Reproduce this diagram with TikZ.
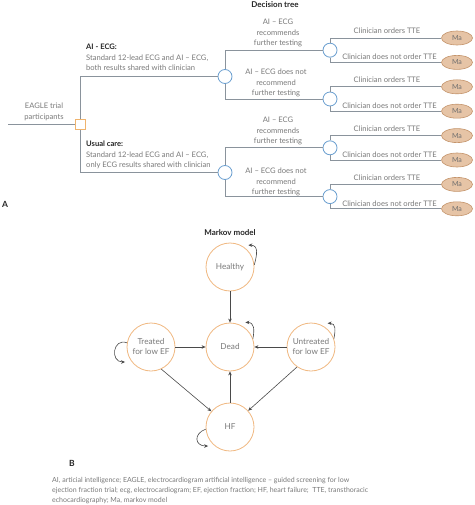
\documentclass[tikz,border=0pt]{standalone}
\usepackage{fontspec}
\setmainfont{Lato}
\usetikzlibrary{shapes.geometric,arrows.meta,calc}
\definecolor{treeline}{HTML}{8A939C}
\definecolor{bluec}{HTML}{6B9FD0}
\definecolor{sqor}{HTML}{F0B46E}
\definecolor{mafill}{HTML}{E6C4A6}
\definecolor{madraw}{HTML}{C4946B}
\definecolor{txtg}{HTML}{7A7A7A}
\definecolor{mkor}{HTML}{F0B880}
\definecolor{arrg}{HTML}{4A4A4A}
\begin{document}
\begin{tikzpicture}[x=1pt,y=-1pt,
 tl/.style={draw=treeline,line width=0.8pt},
 chance/.style={circle,draw=bluec,fill=white,line width=0.8pt,minimum size=14pt,inner sep=0pt},
 decis/.style={rectangle,draw=sqor,fill=white,line width=0.8pt,minimum size=10pt,inner sep=0pt},
 mabox/.style={ellipse,draw=madraw,fill=mafill,line width=0.6pt,minimum width=31pt,minimum height=14pt,inner sep=0pt,text=txtg!90!black,font=\fontsize{7}{7}\selectfont},
 lbl/.style={inner sep=0pt,text=txtg,font=\fontsize{7.6}{10.5}\selectfont},
 ttl/.style={inner sep=0pt,text=black!85,font=\fontsize{8}{9}\selectfont\bfseries},
 state/.style={circle,draw=mkor,fill=white,line width=0.8pt,minimum size=48pt,inner sep=0pt,text=txtg,align=center,font=\fontsize{8.2}{10}\selectfont},
 arr/.style={draw=arrg,line width=0.6pt,-{Stealth[length=4pt,width=3.5pt]}}
]
\fill[white] (0,0) rectangle (474,505);
\useasboundingbox (0,0) rectangle (474,505);

% ---------- Decision tree ----------
\node[ttl] (dtitle) at (275,5) {Decision tree};
\coordinate (rootstart) at (8,124.5);
\node[decis] (sq) at (80,124.5) {};
\node[chance] (c1) at (225,76.5) {};
\node[chance] (c2) at (225,172.5) {};
\node[chance] (d1) at (330,50.2) {};
\node[chance] (d2) at (330,99) {};
\node[chance] (d3) at (330,147.8) {};
\node[chance] (d4) at (330,196.6) {};
\node[mabox] (m1) at (457,38) {Ma};
\node[mabox] (m2) at (457,62.4) {Ma};
\node[mabox] (m3) at (457,86.8) {Ma};
\node[mabox] (m4) at (457,111.2) {Ma};
\node[mabox] (m5) at (457,135.6) {Ma};
\node[mabox] (m6) at (457,160) {Ma};
\node[mabox] (m7) at (457,184.4) {Ma};
\node[mabox] (m8) at (457,208.8) {Ma};

\draw[tl] (rootstart) -- (sq);
\draw[tl] (sq.north) |- (c1);
\draw[tl] (sq.south) |- (c2);
\draw[tl] (c1.north) |- (d1);
\draw[tl] (c1.south) |- (d2);
\draw[tl] (c2.north) |- (d3);
\draw[tl] (c2.south) |- (d4);
\draw[tl] (d1.north) |- (m1);
\draw[tl] (d1.south) |- (m2);
\draw[tl] (d2.north) |- (m3);
\draw[tl] (d2.south) |- (m4);
\draw[tl] (d3.north) |- (m5);
\draw[tl] (d3.south) |- (m6);
\draw[tl] (d4.north) |- (m7);
\draw[tl] (d4.south) |- (m8);

\node[lbl,align=center,anchor=north] (eagle) at (44,102.8) {EAGLE trial\\participants};
\node[lbl,align=left,anchor=north west] (aiecg) at (86,43.8) {{\color{black!85}\bfseries AI - ECG:}\\Standard 12-lead ECG and AI -- ECG,\\both results shared with clinician};
\node[lbl,align=left,anchor=north west] (usual) at (86,140.8) {{\color{black!85}\bfseries Usual care:}\\Standard 12-lead ECG and AI -- ECG,\\only ECG results shared with clinician};
\node[lbl,align=center,anchor=north] (r1) at (278,18.8) {AI -- ECG\\recommends\\further testing};
\node[lbl,align=center,anchor=north] (n1) at (276,68.8) {AI -- ECG does not\\recommend\\further testing};
\node[lbl,align=center,anchor=north] (r2) at (278,116.8) {AI -- ECG\\recommends\\further testing};
\node[lbl,align=center,anchor=north] (n2) at (276,167.8) {AI -- ECG does not\\recommend\\further testing};

\node[lbl] (o1) at (387,31) {Clinician orders TTE};
\node[lbl] (o2) at (387,79.8) {Clinician orders TTE};
\node[lbl] (o3) at (387,128.6) {Clinician orders TTE};
\node[lbl] (o4) at (387,177.4) {Clinician orders TTE};
\node[lbl] (x1) at (389.5,56.9) {Clinician does not order TTE};
\node[lbl] (x2) at (389.5,105.7) {Clinician does not order TTE};
\node[lbl] (x3) at (389.5,154.5) {Clinician does not order TTE};
\node[lbl] (x4) at (389.5,203.3) {Clinician does not order TTE};

\node[ttl,font=\fontsize{8.5}{9}\selectfont\bfseries] (labA) at (5,204) {A};

% ---------- Markov model ----------
\node[ttl] (mtitle) at (230,233) {Markov model};
\node[state] (healthy) at (230,267) {Healthy};
\node[state] (dead) at (230,347) {Dead};
\node[state] (treated) at (151,347) {Treated\\for low EF};
\node[state] (untreated) at (311,347) {Untreated\\for low EF};
\node[state] (hf) at (230,427) {HF};

\draw[arr] (healthy) -- (dead);
\draw[arr] (treated) -- (dead);
\draw[arr] (untreated) -- (dead);
\draw[arr] (treated.-65) -- (hf);
\draw[arr] (untreated.-125) -- (hf);
\draw[arr] (hf) -- (dead);

\coordinate (hE) at ($(healthy)+(50:28.5pt)$);
\coordinate (dE) at ($(dead)+(58:29pt)$);
\coordinate (uE) at ($(untreated)+(55:29pt)$);
\coordinate (tE) at ($(treated)+(210:30pt)$);
\coordinate (fE) at ($(hf)+(221:29pt)$);
\draw[arr] (healthy.5) to[out=75,in=0,looseness=1.3] (hE);
\draw[arr] (dead.20) to[out=80,in=0,looseness=1.3] (dE);
\draw[arr] (untreated.20) to[out=80,in=0,looseness=1.3] (uE);
\draw[arr] (treated.170) to[out=160,in=180,looseness=2] (tE);
\draw[arr] (hf.185) to[out=200,in=180,looseness=2] (fE);

\node[ttl,font=\fontsize{8.5}{9}\selectfont\bfseries] (labB) at (72,463) {B};
\node[lbl,align=left,anchor=north west,font=\fontsize{7}{10}\selectfont] (caption) at (52,477) {AI, articial intelligence; EAGLE, electrocardiogram artificial intelligence -- guided screening for low\\ejection fraction trial; ecg, electrocardiogram; EF, ejection fraction; HF, heart failure;\ \ TTE, transthoracic\\echocardiography; Ma, markov model};
\end{tikzpicture}
\end{document}
